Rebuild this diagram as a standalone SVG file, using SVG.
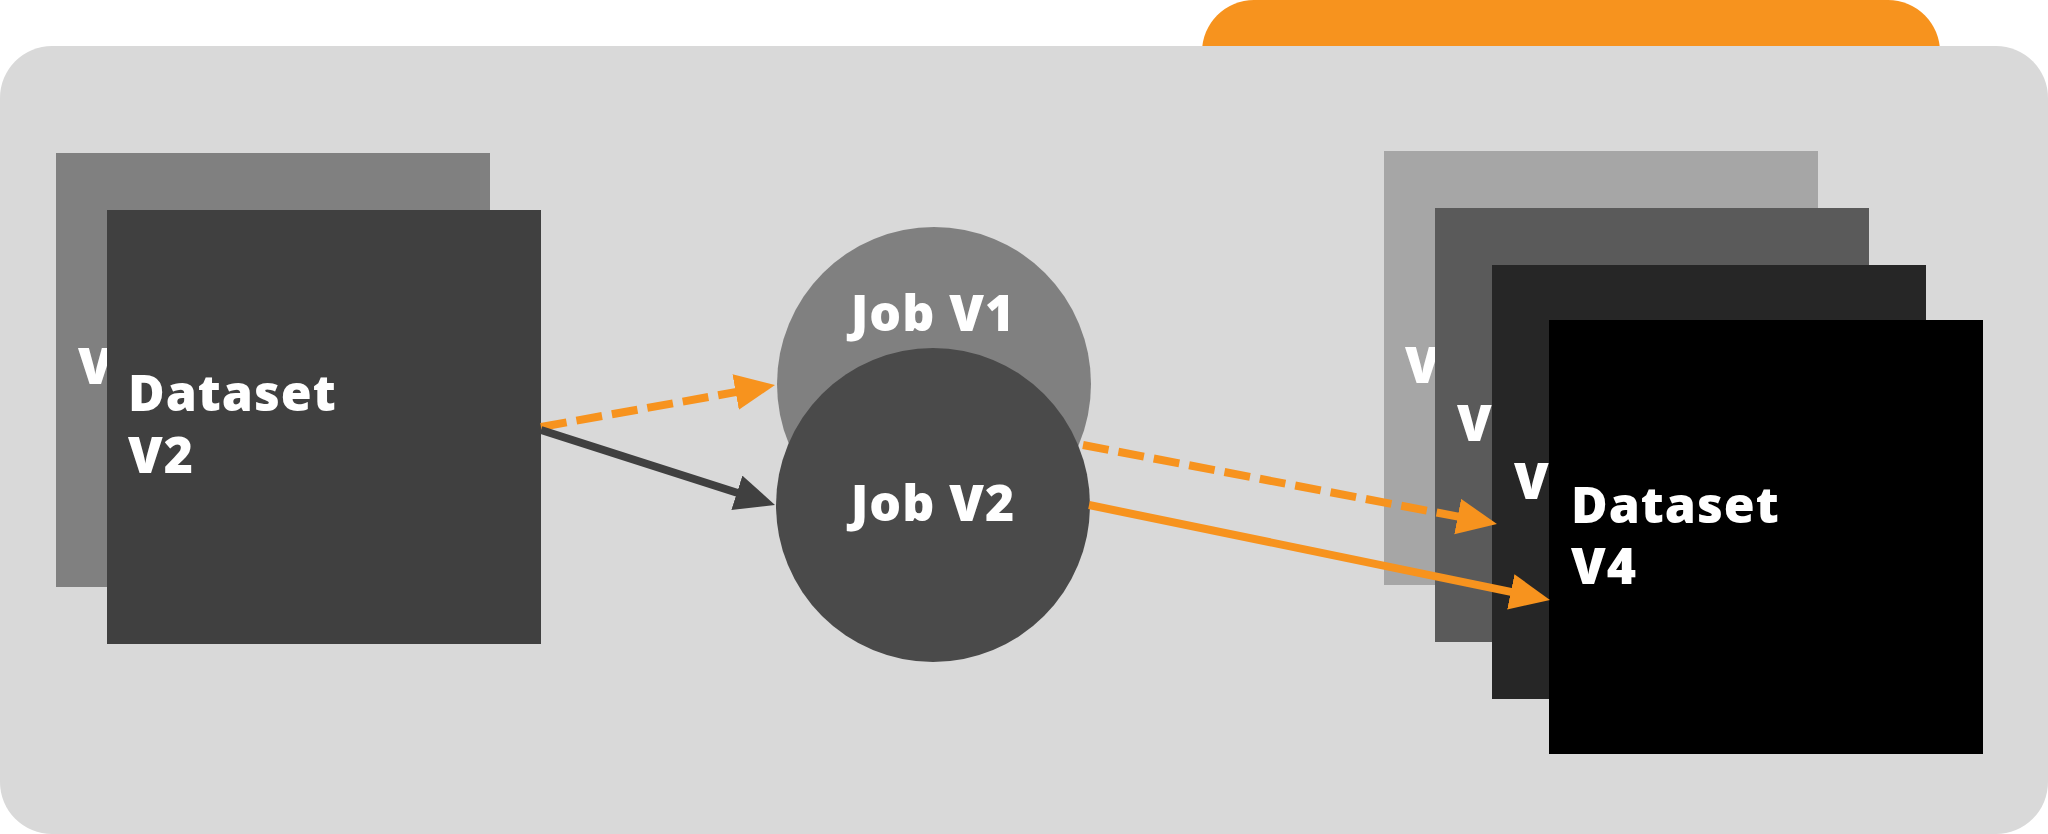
<svg xmlns="http://www.w3.org/2000/svg" width="2048" height="834" viewBox="0 0 2048 834">
<style>
.t{font-family:"Open Sans","DejaVu Sans",sans-serif;font-weight:800;font-size:50px;letter-spacing:1px;fill:#fff}
.j{text-anchor:middle}
</style>
<defs>
<marker id="ao" markerUnits="userSpaceOnUse" markerWidth="42" markerHeight="40" refX="10" refY="18" orient="auto"><path d="M0,0 L40,18 L0,36 z" fill="#f7931e"/></marker>
<marker id="ad" markerUnits="userSpaceOnUse" markerWidth="42" markerHeight="40" refX="10" refY="18" orient="auto"><path d="M0,0 L40,18 L0,36 z" fill="#404040"/></marker>
</defs>
<path id="tab" d="M1202,60 L1202,52 A52,52 0 0 1 1254,0 L1888,0 A52,52 0 0 1 1940,52 L1940,60 z" fill="#f7931e"/>
<rect id="bg" x="0" y="46" width="2048" height="788" rx="52" fill="#d9d9d9"/>
<g id="dsV1"><rect x="56" y="153" width="434" height="434" fill="#808080"/><text class="t" x="78" y="384">V</text></g>
<g id="dsV2"><rect x="107" y="210" width="434" height="434" fill="#404040"/><text class="t" x="128" y="411">Dataset</text><text class="t" x="128" y="473">V2</text></g>
<g id="jobV1"><circle cx="934" cy="384" r="157" fill="#808080"/><text class="t j" x="933" y="331">Job V1</text></g>
<g id="jobV2"><circle cx="933" cy="505" r="157" fill="#4a4a4a"/><text class="t j" x="933" y="521">Job V2</text></g>
<g id="r1"><rect x="1384" y="151" width="434" height="434" fill="#a6a6a6"/><text class="t" x="1405" y="383">V</text></g>
<g id="r2"><rect x="1435" y="208" width="434" height="434" fill="#5a5a5a"/><text class="t" x="1457" y="441">V</text></g>
<g id="r3"><rect x="1492" y="265" width="434" height="434" fill="#262626"/><text class="t" x="1514" y="499">V</text></g>
<g id="dsV4"><rect x="1549" y="320" width="434" height="434" fill="#000"/><text class="t" x="1571" y="523">Dataset</text><text class="t" x="1571" y="584">V4</text></g>
<g id="connectors" fill="none" stroke-width="8">
<line x1="541" y1="427" x2="745.5" y2="390.3" stroke="#f7931e" stroke-dasharray="26 10" marker-end="url(#ao)"/>
<line x1="541" y1="430" x2="746.4" y2="495.8" stroke="#404040" marker-end="url(#ad)"/>
<line x1="1083" y1="445" x2="1467.5" y2="518.4" stroke="#f7931e" stroke-dasharray="26 10" marker-end="url(#ao)"/>
<line x1="1089" y1="505" x2="1520.6" y2="593.9" stroke="#f7931e" marker-end="url(#ao)"/>
</g>
</svg>
